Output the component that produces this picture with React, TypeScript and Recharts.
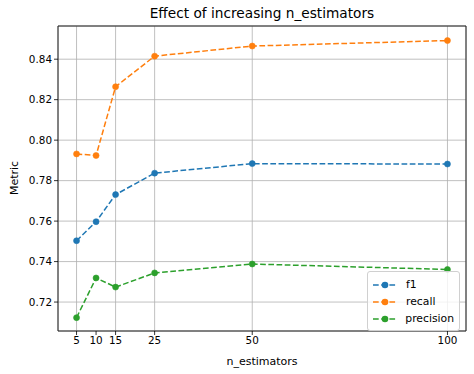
import React from "react";
import {
  LineChart,
  Line,
  XAxis,
  YAxis,
  CartesianGrid,
  Legend,
  ReferenceArea
} from "recharts";

const nEstimators = [5, 10, 15, 25, 50, 100];
const f1 = [0.7503, 0.7597, 0.7731, 0.7837, 0.7884, 0.7882];
const recall = [0.7932, 0.7924, 0.8264, 0.8415, 0.8465, 0.8492];
const precision = [0.7123, 0.7319, 0.7274, 0.7344, 0.7388, 0.7361];

const xTicks = [5, 10, 15, 25, 50, 100];
const yTicks = [0.72, 0.74, 0.76, 0.78, 0.8, 0.82, 0.84];
const xDomain: [number, number] = [0.25, 104.75];
const yDomain: [number, number] = [0.7057, 0.8564];

const series = [
  { key: "f1", values: f1, color: "#1f77b4" },
  { key: "recall", values: recall, color: "#ff7f0e" },
  { key: "precision", values: precision, color: "#2ca02c" }
];

const data = nEstimators.map((n, i) => ({
  n,
  f1: f1[i],
  recall: recall[i],
  precision: precision[i]
}));

const FONT = "'DejaVu Sans', sans-serif";
const DASH = "5.7 2.5";

const LegendBox = () => (
  <div
    style={{
      border: "1px solid #d0d0d0",
      borderRadius: 3,
      background: "rgba(255,255,255,0.8)",
      padding: "4px 5px 3px 5px",
      fontFamily: FONT,
      fontSize: 10.8,
      color: "#000"
    }}
  >
    {series.map((s) => (
      <div key={s.key} style={{ display: "flex", alignItems: "center", height: 17 }}>
        <svg width={24} height={10} style={{ marginRight: 9 }}>
          <line x1={0} y1={5} x2={24} y2={5} stroke={s.color} strokeWidth={1.5} strokeDasharray={DASH} />
          <circle cx={12} cy={5} r={3.3} fill={s.color} />
        </svg>
        <span>{s.key}</span>
      </div>
    ))}
  </div>
);

const App: React.FC = () => {
  return (
    <div style={{ position: "absolute", left: 0, top: 0, width: 474, height: 374, background: "#fff" }}>
      <div
        style={{
          position: "absolute",
          left: 58,
          width: 408,
          top: 5,
          textAlign: "center",
          fontFamily: FONT,
          fontSize: 13.7,
          color: "#000"
        }}
      >
        Effect of increasing n_estimators
      </div>
      <LineChart
        width={474}
        height={374}
        data={data}
        margin={{ top: 26, right: 8, left: 0, bottom: 0 }}
      >
        <CartesianGrid stroke="#b0b0b0" strokeWidth={0.8} />
        <XAxis
          dataKey="n"
          type="number"
          domain={xDomain}
          ticks={xTicks}
          allowDataOverflow
          height={43}
          tickSize={4}
          tickMargin={2}
          axisLine={false}
          tickLine={{ stroke: "#000", strokeWidth: 0.8 }}
          tick={{ fill: "#000", fontSize: 10.4, fontFamily: FONT }}
          label={{
            value: "n_estimators",
            position: "insideBottom",
            offset: 9,
            fill: "#000",
            fontSize: 11,
            fontFamily: FONT
          }}
        />
        <YAxis
          type="number"
          domain={yDomain}
          ticks={yTicks}
          allowDataOverflow
          width={58}
          tickSize={4}
          tickMargin={2}
          axisLine={false}
          tickFormatter={(v: number) => v.toFixed(2)}
          tickLine={{ stroke: "#000", strokeWidth: 0.8 }}
          tick={{ fill: "#000", fontSize: 10.4, fontFamily: FONT }}
          label={{
            value: "Metric",
            content: () => (
              <text
                x={14}
                y={178}
                transform="rotate(-90 14 178)"
                textAnchor="middle"
                dominantBaseline="central"
                fill="#000"
                fontSize={11}
                fontFamily={FONT}
              >
                Metric
              </text>
            )
          }}
        />
        {series.map((s) => (
          <Line
            key={s.key}
            dataKey={s.key}
            type="linear"
            stroke={s.color}
            strokeWidth={1.5}
            strokeDasharray={DASH}
            dot={{ r: 3, fill: s.color, stroke: s.color, strokeWidth: 0.6, strokeDasharray: "" }}
            activeDot={false}
            isAnimationActive={false}
          />
        ))}
        <ReferenceArea
          x1={xDomain[0]}
          x2={xDomain[1]}
          y1={yDomain[0]}
          y2={yDomain[1]}
          fill="none"
          fillOpacity={0}
          stroke="#222"
          strokeWidth={1}
          ifOverflow="visible"
        />
        <Legend
          layout="vertical"
          align="center"
          verticalAlign="middle"
          content={() => <LegendBox />}
          wrapperStyle={{ left: 367, top: 271, width: 93 }}
        />
      </LineChart>
    </div>
  );
};

export default App;
